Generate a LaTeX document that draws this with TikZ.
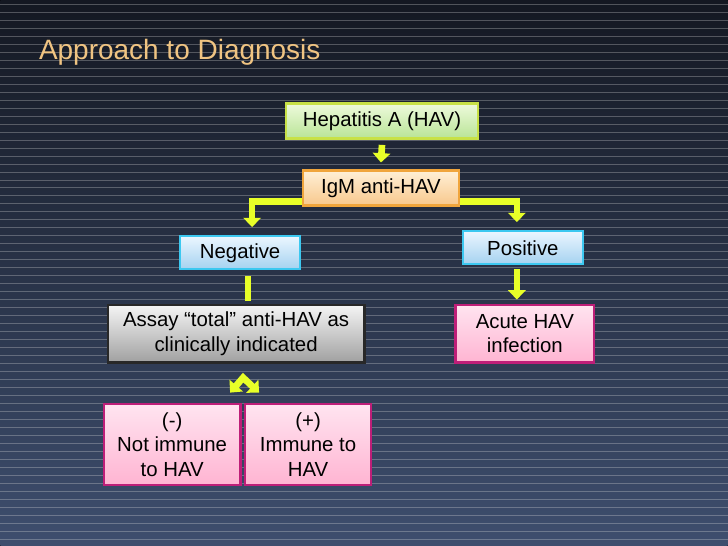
\documentclass[tikz,border=0pt]{standalone}
\usepackage{fontspec}
\setmainfont{Liberation Sans}
\usetikzlibrary{arrows.meta}
\definecolor{bgtop}{RGB}{20,24,34}
\definecolor{bgbot}{RGB}{62,78,110}
\definecolor{titleink}{RGB}{240,196,130}
\definecolor{arrowyel}{RGB}{232,255,40}

\tikzset{
    box/.style={draw, line width=1.8pt, font=\fontsize{15.3}{18.5}\selectfont, align=center, inner sep=0pt},
    greenbox/.style={box, draw={rgb,255:red,200;green,225;blue,70}, top color={rgb,255:red,238;green,250;blue,220}, bottom color={rgb,255:red,185;green,228;blue,150}},
    orangebox/.style={box, draw={rgb,255:red,240;green,165;blue,60}, top color={rgb,255:red,255;green,240;blue,215}, bottom color={rgb,255:red,248;green,200;blue,140}},
    bluebox/.style={box, draw={rgb,255:red,60;green,200;blue,240}, top color={rgb,255:red,235;green,246;blue,255}, bottom color={rgb,255:red,165;green,210;blue,240}},
    graybox/.style={box, draw={rgb,255:red,40;green,40;blue,40}, top color={rgb,255:red,245;green,245;blue,245}, bottom color={rgb,255:red,160;green,160;blue,160}},
    pinkbox/.style={box, draw={rgb,255:red,190;green,30;blue,120}, top color={rgb,255:red,255;green,228;blue,240}, bottom color={rgb,255:red,255;green,180;blue,210}},
    yelarrow/.style={line width=5pt, arrowyel, -{Triangle[length=7pt,width=13pt]}},
    yelbar/.style={line width=5pt, arrowyel},
}

\begin{document}
\begin{tikzpicture}[x=0.75pt, y=-0.75pt]
    % Background
    \fill[top color=bgtop, bottom color=bgbot] (0,0) rectangle (728,546);
    \foreach \yy in {4,12,...,546}
        \draw[white!75!gray, opacity=0.3, line width=0.5pt] (0,\yy) -- (728,\yy);
    \useasboundingbox (0,0) rectangle (728,546);

    % Title
    \node[anchor=west, text=titleink, font=\fontsize{21}{24}\selectfont] (title) at (34,52) {Approach to Diagnosis};

    % Boxes
    \node[greenbox, minimum width=192*0.75pt, minimum height=35*0.75pt] (hav) at (382,121) {Hepatitis A (HAV)};
    \node[orangebox, minimum width=156*0.75pt, minimum height=35*0.75pt] (igm) at (381,188) {IgM anti-HAV};
    \node[bluebox, minimum width=120*0.75pt, minimum height=33*0.75pt] (neg) at (240,253) {Negative};
    \node[bluebox, minimum width=120*0.75pt, minimum height=33*0.75pt] (pos) at (523,248) {Positive};
    \node[graybox, minimum width=257*0.75pt, minimum height=58*0.75pt] (assay) at (236,334) {Assay “total” anti-HAV as\\clinically indicated};
    \node[pinkbox, minimum width=139*0.75pt, minimum height=58*0.75pt] (acute) at (525,334) {Acute HAV\\infection};
    \node[pinkbox, minimum width=137*0.75pt, minimum height=81*0.75pt] (notimm) at (172,445) {(-)\\Not immune\\to HAV};
    \node[pinkbox, minimum width=126*0.75pt, minimum height=81*0.75pt] (imm) at (308,445) {(+)\\Immune to\\HAV};

    % Connectors
    \coordinate (lcorner) at (252,202);
    \coordinate (rcorner) at (517,202);
    \coordinate (negbar) at (248,0);
    \coordinate (chevl) at (230,393);
    \coordinate (chevtop) at (243,378);
    \coordinate (chevr) at (259,393);
    \draw[yelarrow] ([yshift=-4pt]hav.south) -- ([yshift=5pt]igm.north);
    \draw[yelarrow] (igm.west |- lcorner) -- (lcorner) -- ([yshift=6pt]neg.north -| lcorner);
    \draw[yelarrow] (igm.east |- rcorner) -- (rcorner) -- ([yshift=6pt]pos.north -| rcorner);
    \draw[yelbar] ([yshift=-4pt]neg.south -| negbar) -- ([yshift=2pt]assay.north -| negbar);
    \draw[yelarrow] ([yshift=-3pt]pos.south -| rcorner) -- ([yshift=3pt]acute.north -| rcorner);
    \draw[line width=5pt, arrowyel, {Triangle[length=7pt,width=13pt]}-{Triangle[length=7pt,width=13pt]}] (chevl) -- (chevtop) -- (chevr);
\end{tikzpicture}
\end{document}
